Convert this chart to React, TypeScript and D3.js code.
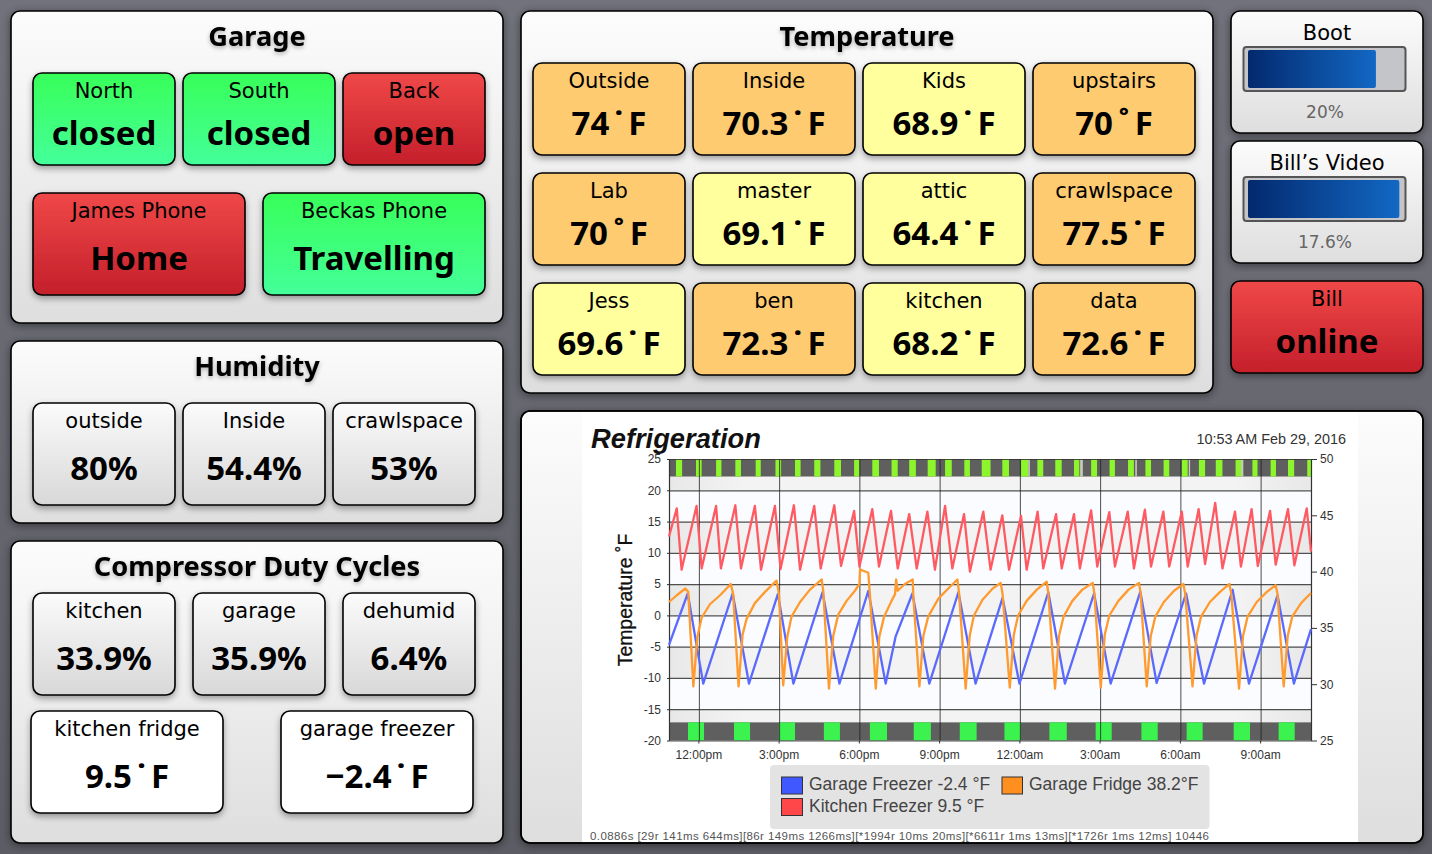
import { useEffect, useRef } from 'react'
import * as d3 from 'd3'

// dashboard values
const garageDoors = ['North', 'South', 'Back']
const garageStates = ['closed', 'closed', 'open']
const phoneNames = ['James Phone', 'Beckas Phone']
const phoneStates = ['Home', 'Travelling']
const tempLabels = ['Outside', 'Inside', 'Kids', 'upstairs', 'Lab', 'master', 'attic', 'crawlspace', 'Jess', 'ben', 'kitchen', 'data']
const tempValues = ['74', '70.3', '68.9', '70', '70', '69.1', '64.4', '77.5', '69.6', '72.3', '68.2', '72.6']
const tempWarm = [true, true, false, true, true, false, false, true, false, true, false, true]
const humidityLabels = ['outside', 'Inside', 'crawlspace']
const humidityValues = ['80%', '54.4%', '53%']
const dutyLabels = ['kitchen', 'garage', 'dehumid']
const dutyValues = ['33.9%', '35.9%', '6.4%']
const fridgeLabels = ['kitchen fridge', 'garage freezer']
const fridgeValues = ['9.5', '-2.4']
const gaugeNames = ['Boot', 'Bill’s Video']
const gaugeTexts = ['20%', '17.6%']
const gaugeLevels = [0.82, 0.97]

// chart values: hours since the start of the 24h window
const kitchenHours = [0, .29, .47, 1.03, 1.22, 1.76, 1.94, 2.48, 2.69, 3.21, 3.44, 3.96, 4.17, 4.67, 4.9, 5.43, 5.67, 6.18, 6.43, 6.92, 7.12, 7.6, 7.85, 8.3, 8.55, 8.98, 9.26, 9.66, 9.94, 10.32, 10.59, 11.03, 11.25, 11.75, 12.02, 12.46, 12.71, 13.16, 13.37, 13.78, 13.99, 14.47, 14.68, 15.14, 15.36, 15.78, 16.01, 16.46, 16.67, 17.15, 17.38, 17.79, 18.02, 18.48, 18.7, 19.17, 19.39, 19.8, 20.04, 20.42, 20.69, 21.16, 21.38, 21.78, 22.01, 22.47, 22.68, 23.14, 23.38, 23.84, 24]
const kitchenTemps = [12.6, 17.1, 7.3, 17.5, 7.5, 17.5, 7.5, 17.6, 7.5, 17.5, 7.3, 17.5, 7.4, 17.6, 7.3, 17.5, 7.5, 17.6, 7.9, 16.7, 7.8, 17, 7.8, 16.7, 7.5, 16.2, 7.5, 16.6, 7.3, 17.5, 7.5, 16.2, 7, 16.6, 7.3, 16, 7.3, 15.9, 7.3, 16.6, 7.5, 16.2, 7.5, 16.2, 7.5, 16.8, 7.8, 16.5, 7.8, 16.6, 7.5, 16.9, 7.8, 16.6, 7.8, 16.6, 7.8, 17, 8.2, 18, 7.5, 16.6, 7.8, 17, 7.9, 16.7, 8.1, 17, 8, 17.1, 10.2]

const freezerHours = [0, .7, 1.28, 2.38, 2.99, 4.07, 4.65, 5.74, 6.37, 7.45, 8.1, 8.47, 9.1, 9.73, 10.82, 11.46, 12.47, 13.1, 14.18, 14.8, 15.89, 16.51, 17.62, 18.23, 19.33, 20, 21.07, 21.68, 22.75, 23.36, 24]
const freezerTemps = [-4.7, 3.5, -10.9, 3.5, -10.9, 3.4, -10.9, 3.7, -10.9, 3.9, -10.9, -3.4, 3.5, -10.9, 3.7, -10.9, 2.8, -10.9, 3.7, -10.9, 3.5, -10.9, 3.8, -10.8, 3.5, -10.9, 4.1, -10.9, 3.2, -10.9, -2.2]

// fridge is read against the right axis
const fridgeHours = [0, .29, .61, .72, .91, 1.06, 1.22, 1.53, 1.91, 2.31, 2.4, 2.6, 2.75, 2.9, 3.21, 3.59, 4.02, 4.11, 4.27, 4.42, 4.58, 4.9, 5.27, 5.71, 5.77, 5.98, 6.14, 6.33, 6.64, 6.95, 7.12, 7.14, 7.24, 7.45, 7.51, 7.73, 7.86, 8.04, 8.32, 8.45, 8.49, 8.55, 8.82, 9.11, 9.13, 9.36, 9.51, 9.69, 10.07, 10.44, 10.78, 10.84, 11.09, 11.24, 11.4, 11.72, 12.1, 12.4, 12.47, 12.74, 12.89, 13.05, 13.37, 13.75, 14.12, 14.18, 14.43, 14.58, 14.75, 15.08, 15.45, 15.84, 15.9, 16.14, 16.29, 16.46, 16.8, 17.18, 17.57, 17.63, 17.86, 18.01, 18.18, 18.5, 18.88, 19.23, 19.3, 19.57, 19.72, 19.89, 20.22, 20.6, 20.95, 21.02, 21.31, 21.46, 21.63, 21.97, 22.35, 22.68, 22.75, 22.98, 23.13, 23.3, 23.63, 24]
const fridgeTemps = [37.3, 37.9, 38.5, 38.2, 29.8, 34.2, 35.9, 37.1, 37.9, 38.9, 38, 29.8, 34.4, 35.8, 37.2, 38.2, 39.2, 38, 29.9, 34.2, 36, 37.3, 38.4, 39.3, 38.2, 29.6, 34.3, 36.2, 37.4, 38.3, 38.9, 40.2, 40.1, 39.9, 38, 29.6, 34.2, 36, 37.4, 38, 39.3, 38.3, 38.9, 39.3, 38, 29.8, 34.3, 36, 37.6, 38.5, 39.3, 38.2, 29.6, 34.3, 36.1, 37.5, 38.5, 39, 38, 29.7, 34.4, 36.1, 37.4, 38.4, 39.1, 38.1, 29.6, 34.3, 36, 37.4, 38.4, 39, 38.1, 29.7, 34.4, 36.1, 37.4, 38.4, 39, 38.1, 29.8, 34.3, 36, 37.3, 38.3, 38.9, 38, 29.8, 34.3, 36, 37.3, 38.2, 38.9, 38, 29.6, 34.3, 36, 37.3, 38.2, 38.8, 38, 29.8, 34.3, 36, 37.2, 38.1]

// compressor on-times [start, end] in hours
const kitchenRuns = [[.26, .49], [1.01, 1.22], [1.76, 1.96], [2.48, 2.69], [3.24, 3.43], [3.98, 4.19], [4.71, 4.92], [5.43, 5.66], [6.18, 6.43], [6.92, 7.12], [7.6, 7.85], [8.32, 8.55], [8.98, 9.23], [9.67, 9.97], [10.32, 10.57], [11.04, 11.25], [11.69, 12.02], [12.46, 12.71], [13.16, 13.43], [13.77, 13.99], [14.44, 14.68], [15.14, 15.34], [15.78, 16], [16.47, 16.67], [17.16, 17.38], [17.81, 18.02], [18.49, 18.7], [19.17, 19.39], [19.81, 20.04], [20.44, 20.69], [21.18, 21.45], [21.81, 22], [22.49, 22.69], [23.14, 23.37], [23.86, 24]]
const kitchenGaps = [[13.43, 13.49], [15.37, 15.47], [17.43, 17.49], [19.43, 19.48], [21.39, 21.47]]
const garageRuns = [[.71, 1.31], [2.43, 3.03], [4.11, 4.71], [5.79, 6.39], [7.51, 8.15], [9.15, 9.79], [10.87, 11.5], [12.54, 13.15], [14.22, 14.87], [15.95, 16.55], [17.66, 18.27], [19.35, 19.95], [21.11, 21.72], [22.79, 23.39]]

const leftTicks = d3.range(-20, 30, 5)
const rightTicks = [25, 30, 35, 40, 45, 50]
const legendNames = ['Garage Freezer -2.4 °F', 'Kitchen Freezer 9.5 °F', 'Garage Fridge 38.2°F']
const statsLine = '0.0886s [29r 141ms 644ms][86r 149ms 1266ms][*1994r 10ms 20ms][*6611r 1ms 13ms][*1726r 1ms 12ms] 10446'

const FONT = '"DejaVu Sans", sans-serif'
const BOLD_FONT = '"Noto Sans", "DejaVu Sans", sans-serif'
const CHART_FONT = '"Liberation Sans", Arial, sans-serif'
const PLOT = { left: 669, right: 1311, top: 459, bottom: 740.5 }
const START = new Date(2016, 1, 28, 10, 53)
const atHour = (h: number) => new Date(START.getTime() + h * 3600000)

type Tone = 'green' | 'red' | 'orange' | 'yellow' | 'plain' | 'white'
const FILLS: Record<Tone, string> = {
  green: 'url(#toneGreen)',
  red: 'url(#toneRed)',
  orange: '#ffcb70',
  yellow: '#ffff9e',
  plain: 'url(#tonePlain)',
  white: '#ffffff',
}

function Panel({ x, y, w, h, title }: { x: number; y: number; w: number; h: number; title?: string }) {
  return (
    <g>
      <rect x={x} y={y} width={w} height={h} rx={9} fill="url(#panelFill)" stroke="#000" strokeWidth={1.6} filter="url(#panelShadow)" />
      {title && (
        <text x={x + w / 2} y={y + 35} textAnchor="middle" fontFamily={BOLD_FONT} fontWeight={700} fontSize={27.2} fill="#000" filter="url(#textShadow)">
          {title}
        </text>
      )}
    </g>
  )
}

function Widget({ x, y, w, h, label, value, tone }: { x: number; y: number; w: number; h: number; label: string; value: string; tone: Tone }) {
  return (
    <g textAnchor="middle" fill="#000">
      <rect x={x} y={y} width={w} height={h} rx={9} fill={FILLS[tone]} stroke="#000" strokeWidth={1.6} filter="url(#widgetShadow)" />
      <text x={x + w / 2} y={y + 25} fontFamily={FONT} fontSize={21}>{label}</text>
      <text x={x + w / 2} y={y + h - (h > 95 ? 25 : 20)} fontFamily={BOLD_FONT} fontSize={33} fontWeight={700}>{value}</text>
    </g>
  )
}

function Gauge({ y, name, text, level }: { y: number; name: string; text: string; level: number }) {
  const fill = d3.scaleLinear().domain([0, 1]).range([0, 156])
  return (
    <g fontFamily={FONT} textAnchor="middle">
      <text x={1327} y={y + 29} fontSize={21} fill="#000">{name}</text>
      <rect x={1243.5} y={y + 36} width={162} height={44} rx={3} fill="#c4c5c9" stroke="#555" strokeWidth={2} />
      <rect x={1248} y={y + 39} width={fill(level)} height={38} rx={2} fill="url(#gaugeFill)" />
      <text x={1325} y={y + 107} fontSize={17} fill="#666">{text}</text>
    </g>
  )
}

function FridgeChart() {
  const ref = useRef<SVGGElement>(null)

  useEffect(() => {
    const node = ref.current
    if (!node) return
    const g = d3.select(node)
    g.selectAll('*').remove()

    const x = d3.scaleTime().domain([atHour(0), atHour(24)]).range([PLOT.left, PLOT.right])
    const yLeft = d3.scaleLinear().domain([-20, 25]).range([PLOT.bottom, PLOT.top])
    const yRight = d3.scaleLinear().domain([25, 50]).range([PLOT.bottom, PLOT.top])
    const plotW = PLOT.right - PLOT.left
    const plotH = PLOT.bottom - PLOT.top

    // alternating background stripes
    g.append('rect').attr('x', PLOT.left).attr('y', PLOT.top).attr('width', plotW).attr('height', plotH).attr('fill', '#fafcff')
    g.selectAll('rect.stripe')
      .data(leftTicks.filter(t => (t + 20) % 10 === 0))
      .join('rect')
      .attr('class', 'stripe')
      .attr('x', PLOT.left)
      .attr('width', plotW)
      .attr('y', d => yLeft(d + 5))
      .attr('height', d => yLeft(d) - yLeft(d + 5))
      .attr('fill', 'url(#stripeFill)')

    // run bands
    const runs = (top: number, bottom: number, spans: number[][], color: string) => {
      g.append('g')
        .selectAll('rect')
        .data(spans)
        .join('rect')
        .attr('x', d => x(atHour(d[0])))
        .attr('width', d => x(atHour(d[1])) - x(atHour(d[0])))
        .attr('y', yLeft(top))
        .attr('height', yLeft(bottom) - yLeft(top))
        .attr('fill', color)
    }
    runs(25, 22.2, [[0, 24]], '#5f5f5f')
    runs(25, 22.2, kitchenRuns, '#8cf52c')
    runs(25, 22.2, kitchenGaps, '#c9c9c0')
    runs(-17.1, -20, [[0, 24]], '#5f5f5f')
    runs(-17.1, -20, garageRuns, '#3cf24e')

    // grids
    g.append('g')
      .attr('transform', `translate(${PLOT.left},0)`)
      .call(d3.axisLeft(yLeft).tickValues(leftTicks).tickSize(-plotW).tickFormat(() => ''))
      .call(sel => sel.select('.domain').remove())
      .call(sel => sel.selectAll('line').attr('stroke', '#333').attr('stroke-opacity', 0.85).attr('stroke-width', 1.2))

    const hourTicks = x.ticks(d3.timeHour.every(3) as d3.TimeInterval)
    g.append('g')
      .attr('transform', `translate(0,${PLOT.bottom})`)
      .call(d3.axisBottom(x).tickValues(hourTicks).tickSize(-plotH).tickFormat(() => ''))
      .call(sel => sel.select('.domain').remove())
      .call(sel => sel.selectAll('line').attr('stroke', '#222').attr('stroke-opacity', 0.8).attr('stroke-width', 1))

    // axes
    const styleAxis = (sel: any) => {
      sel.selectAll('text').attr('fill', '#333').style('font-size', '12px').style('font-family', CHART_FONT)
      sel.selectAll('line').attr('stroke', '#333')
      sel.select('.domain').attr('stroke', '#333').attr('stroke-width', 1.2)
    }
    g.append('g')
      .attr('transform', `translate(${PLOT.left},0)`)
      .call(d3.axisLeft(yLeft).tickValues(leftTicks).tickSize(2).tickSizeOuter(0).tickPadding(6).tickFormat(d => String(d)))
      .call(styleAxis)
    g.append('g')
      .attr('transform', `translate(${PLOT.right},0)`)
      .call(d3.axisRight(yRight).tickValues(rightTicks).tickSize(6).tickSizeOuter(0).tickPadding(3))
      .call(styleAxis)
    g.append('g')
      .attr('transform', `translate(0,${PLOT.bottom})`)
      .call(d3.axisBottom(x).tickValues(hourTicks).tickSize(3).tickSizeOuter(0).tickPadding(7).offset(0).tickFormat(d => d3.timeFormat('%-I:%M%p')(d as Date).toLowerCase()))
      .call(styleAxis)
      .call(sel => sel.select('.domain').remove())

    // series
    const path = (hours: number[], temps: number[], scale: d3.ScaleLinear<number, number>, color: string) => {
      const line = d3.line<number>()
        .x(h => x(atHour(h)))
        .y((_, i) => scale(temps[i]))
      g.append('path')
        .datum(hours)
        .attr('fill', 'none')
        .attr('stroke', color)
        .attr('stroke-width', 2.3)
        .attr('stroke-linejoin', 'round')
        .attr('d', line)
    }
    path(kitchenHours, kitchenTemps, yLeft, '#ff5a62')
    path(freezerHours, freezerTemps, yLeft, '#5a6aff')
    path(fridgeHours, fridgeTemps, yRight, '#ff9a2e')
  }, [])

  return <g ref={ref} />
}

export default function App() {
  const tempCols = [[533, 152], [693, 162], [863, 162], [1033, 162]]
  const tempRows = [63, 173, 283]
  const doorCols = [[33, 142], [183, 152], [343, 142]]
  const dutyCols = [[33, 142], [193, 132], [343, 132]]
  const humCols = [33, 183, 333]
  return (
    <svg width={1432} height={854} style={{ position: 'absolute', left: 0, top: 0 }}>
      <defs>
        <linearGradient id="pageFill" x1="0" y1="0" x2="0" y2="1">
          <stop offset="0" stopColor="#72727c" />
          <stop offset="1" stopColor="#5c5c64" />
        </linearGradient>
        <linearGradient id="panelFill" x1="0" y1="0" x2="0" y2="1">
          <stop offset="0" stopColor="#fcfcfc" />
          <stop offset="1" stopColor="#dedede" />
        </linearGradient>
        <linearGradient id="toneGreen" x1="0" y1="0" x2="0" y2="1">
          <stop offset="0" stopColor="#38ff58" />
          <stop offset="1" stopColor="#44ff9a" />
        </linearGradient>
        <linearGradient id="toneRed" x1="0" y1="0" x2="0" y2="1">
          <stop offset="0" stopColor="#f04848" />
          <stop offset="1" stopColor="#c41f2b" />
        </linearGradient>
        <linearGradient id="tonePlain" x1="0" y1="0" x2="0" y2="1">
          <stop offset="0" stopColor="#fbfbfb" />
          <stop offset="1" stopColor="#d8d8d8" />
        </linearGradient>
        <linearGradient id="gaugeFill" x1="0" y1="0" x2="1" y2="0">
          <stop offset="0" stopColor="#03296e" />
          <stop offset="1" stopColor="#1268c4" />
        </linearGradient>
        <linearGradient id="stripeFill" gradientUnits="userSpaceOnUse" x1={PLOT.left} y1="0" x2={PLOT.right} y2="0">
          <stop offset="0" stopColor="#e8e8e8" />
          <stop offset="0.12" stopColor="#f3f3f3" />
          <stop offset="0.88" stopColor="#f3f3f3" />
          <stop offset="1" stopColor="#e8e8e8" />
        </linearGradient>
        <filter id="panelShadow" x="-5%" y="-5%" width="110%" height="112%">
          <feDropShadow dx="0" dy="2" stdDeviation="4" floodColor="#000" floodOpacity="0.45" />
        </filter>
        <filter id="widgetShadow" x="-10%" y="-10%" width="120%" height="130%">
          <feDropShadow dx="0" dy="3" stdDeviation="3" floodColor="#000" floodOpacity="0.35" />
        </filter>
        <filter id="textShadow" x="-10%" y="-30%" width="120%" height="170%">
          <feDropShadow dx="0" dy="2" stdDeviation="2" floodColor="#000" floodOpacity="0.3" />
        </filter>
        <clipPath id="chartClip">
          <rect x={522} y={412} width={900} height={430} rx={8} />
        </clipPath>
      </defs>

      <rect width={1432} height={854} fill="url(#pageFill)" />

      <Panel x={11} y={11} w={492} h={312} title="Garage" />
      {garageDoors.map((d, i) => (
        <Widget key={d} x={doorCols[i][0]} y={73} w={doorCols[i][1]} h={92} label={d} value={garageStates[i]} tone={garageStates[i] === 'open' ? 'red' : 'green'} />
      ))}
      <Widget x={33} y={193} w={212} h={102} label={phoneNames[0]} value={phoneStates[0]} tone="red" />
      <Widget x={263} y={193} w={222} h={102} label={phoneNames[1]} value={phoneStates[1]} tone="green" />

      <Panel x={11} y={341} w={492} h={182} title="Humidity" />
      {humidityLabels.map((d, i) => (
        <Widget key={d} x={humCols[i]} y={403} w={142} h={102} label={d} value={humidityValues[i]} tone="plain" />
      ))}

      <Panel x={11} y={541} w={492} h={302} title="Compressor Duty Cycles" />
      {dutyLabels.map((d, i) => (
        <Widget key={d} x={dutyCols[i][0]} y={593} w={dutyCols[i][1]} h={102} label={d} value={dutyValues[i]} tone="plain" />
      ))}
      {fridgeLabels.map((d, i) => (
        <Widget key={d} x={[31, 281][i]} y={711} w={192} h={102} label={d} value={`${fridgeValues[i].replace('-', '−')}\u2009˙\u2009F`} tone="white" />
      ))}

      <Panel x={521} y={11} w={692} h={382} title="Temperature" />
      {tempLabels.map((d, i) => (
        <Widget
          key={d}
          x={tempCols[i % 4][0]}
          y={tempRows[Math.floor(i / 4)]}
          w={tempCols[i % 4][1]}
          h={92}
          label={d}
          value={`${tempValues[i]}\u2009${tempValues[i] === '70' ? '˚' : '˙'}\u2009F`}
          tone={tempWarm[i] ? 'orange' : 'yellow'}
        />
      ))}

      <Panel x={1231} y={11} w={192} h={122} />
      <Gauge y={11} name={gaugeNames[0]} text={gaugeTexts[0]} level={gaugeLevels[0]} />
      <Panel x={1231} y={141} w={192} h={122} />
      <Gauge y={141} name={gaugeNames[1]} text={gaugeTexts[1]} level={gaugeLevels[1]} />
      <Widget x={1231} y={281} w={192} h={92} label="Bill" value="online" tone="red" />

      <Panel x={521} y={411} w={902} h={432} />
      <g clipPath="url(#chartClip)">
        <rect x={582} y={412} width={776} height={431} fill="#fff" />
        <FridgeChart />
        <g fontFamily={CHART_FONT}>
          <text x={591} y={447.5} fontSize={27.3} fontWeight={700} fontStyle="italic" fill="#111">Refrigeration</text>
          <text x={1346} y={444} fontSize={14.4} textAnchor="end" fill="#333">10:53 AM Feb 29, 2016</text>
          <text transform="translate(632,600) rotate(-90)" textAnchor="middle" fontSize={19.4} stroke="#111" strokeWidth={0.3} fill="#111">Temperature ˚F</text>
          <rect x={770} y={765} width={439.5} height={64} rx={4} fill="#e3e3e3" />
          <rect x={781.5} y={777} width={21} height={17} fill="#4058ff" stroke="#333" />
          <rect x={781.5} y={798.5} width={21} height={17} fill="#ff4648" stroke="#333" />
          <rect x={1002} y={777} width={20.5} height={17} fill="#ff9020" stroke="#333" />
          <g fontSize={17.5} fill="#444">
            <text x={809} y={790}>{legendNames[0]}</text>
            <text x={809} y={812}>{legendNames[1]}</text>
            <text x={1029} y={790}>{legendNames[2]}</text>
          </g>
          <text x={590} y={840} fontSize={11.5} textLength={619} fill="#555">{statsLine}</text>
        </g>
      </g>
      <rect x={521} y={411} width={902} height={432} rx={9} fill="none" stroke="#000" strokeWidth={1.6} />
    </svg>
  )
}
